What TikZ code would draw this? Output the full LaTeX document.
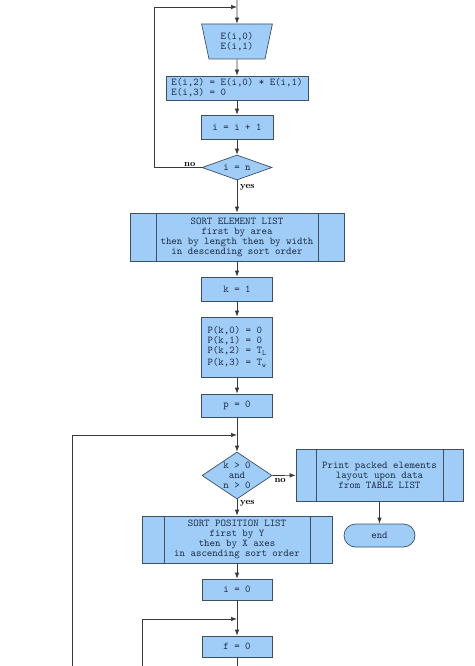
\documentclass[tikz,border=0pt]{standalone}
\usepackage{fontspec}
\usetikzlibrary{shapes,calc,arrows.meta}

\definecolor{boxfill}{HTML}{9FCDF7}
\definecolor{boxline}{HTML}{3E5060}
\definecolor{wire}{HTML}{3A3A3A}
\definecolor{boxtext}{HTML}{1C2A44}

\tikzset{
    box/.style={draw=boxline, fill=boxfill, text=boxtext, line width=0.7pt,
        font=\ttfamily\fontsize{10.4}{10}\selectfont, inner sep=0pt, align=center},
    subproc/.style={box, path picture={
        \draw[boxline, line width=0.7pt]
            ([xshift=#1]path picture bounding box.north west) -- ([xshift=#1]path picture bounding box.south west)
            ([xshift=-#1]path picture bounding box.north east) -- ([xshift=-#1]path picture bounding box.south east);}},
    test/.style={box, diamond},
    flow/.style={draw=wire, line width=0.7pt, -{Latex[length=6pt,width=4.5pt]}},
    lbl/.style={font=\rmfamily\bfseries\fontsize{9}{10}\selectfont, text=black, inner sep=1pt},
}

\begin{document}
\begin{tikzpicture}[x=1pt, y=-1pt]
    \useasboundingbox (0,0) rectangle (474,666);
    % first loop
    \coordinate (top) at (237,0);
    \coordinate (join1) at (237,7);
    \coordinate (back1) at (154,7);
    \node[box, trapezium, trapezium stretches=true, shape border rotate=180,
        trapezium left angle=77, trapezium right angle=77,
        minimum width=71pt, minimum height=35pt] (readE) at (237,41.5) {E(i,0)\\E(i,1)};
    \node[box, align=left, minimum width=142pt, minimum height=24pt] (area) at (237,88)
        {E(i,2) = E(i,0) * E(i,1)\\E(i,3) = 0};
    \node[box, minimum width=72pt, minimum height=24pt] (incr) at (237,127) {i = i + 1};
    \node[test, minimum width=70pt, minimum height=25pt, aspect=2.6] (test1) at (237,167.5) {i = n};
    \draw[flow] (top) -- (readE);
    \draw[flow] (readE) -- (area);
    \draw[flow] (area) -- (incr);
    \draw[flow] (incr) -- (test1);
    \draw[flow] (test1.west) -| (back1) -- (join1);
    \node[lbl, anchor=south east] at ([xshift=-5pt]test1.west) {no};
    % sorting elements
    \node[subproc=26pt, minimum width=214pt, minimum height=48pt] (sortel) at (237,237)
        {SORT ELEMENT LIST\\first by area\\then by length then by width\\in descending sort order};
    \draw[flow] (test1) -- (sortel);
    \node[lbl, anchor=north west] at ([shift={(2pt,-3pt)}]test1.south) {yes};
    \node[box, minimum width=71pt, minimum height=24pt] (kone) at (237,289) {k = 1};
    \node[box, align=left, minimum width=71pt, minimum height=60pt] (pinit) at (237,347)
        {P(k,0) = 0\\P(k,1) = 0\\P(k,2) = T\textsubscript{L}\\[2pt]P(k,3) = T\textsubscript{w}};
    \node[box, minimum width=71pt, minimum height=23pt] (pzero) at (237,405.5) {p = 0};
    \draw[flow] (sortel) -- (kone);
    \draw[flow] (kone) -- (pinit);
    \draw[flow] (pinit) -- (pzero);
    % outer loop
    \coordinate (join2) at (237,435);
    \coordinate (bottom2) at (72,666);
    \node[test, minimum width=70pt, minimum height=47pt, aspect=1.5] (test2) at (237,475.5)
        {k > 0\\and\\n > 0};
    \node[subproc=20pt, minimum width=167pt, minimum height=52pt] (print) at (379.5,475.3)
        {Print packed elements\\layout upon data\\from TABLE LIST};
    \node[box, rounded rectangle, minimum width=71pt, minimum height=23pt] (end) at (379.5,535.5) {end};
    \draw[flow] (pzero) -- (test2);
    \draw[flow] (bottom2) |- (join2);
    \draw[flow] (test2.east) -- (print.west);
    \node[lbl, anchor=north west] at ([shift={(1pt,-2pt)}]test2.east) {no};
    \draw[flow] (print) -- (end);
    % sorting positions
    \node[subproc=22pt, minimum width=190pt, minimum height=47pt] (sortpos) at (237,539.5)
        {SORT POSITION LIST\\first by Y\\then by X axes\\in ascending sort order};
    \draw[flow] (test2) -- (sortpos);
    \node[lbl, anchor=north west] at ([shift={(2pt,0pt)}]test2.south) {yes};
    \node[box, minimum width=70pt, minimum height=21pt] (izero) at (237,589.5) {i = 0};
    \node[box, minimum width=70pt, minimum height=21pt] (fzero) at (237,646.5) {f = 0};
    \coordinate (join3) at (237,619);
    \coordinate (bottom3) at (142,666);
    \coordinate (bottom1) at (237,666);
    \draw[flow] (sortpos) -- (izero);
    \draw[flow] (izero) -- (fzero);
    \draw[flow] (bottom3) |- (join3);
    \draw[draw=wire, line width=0.7pt] (fzero) -- (bottom1);
\end{tikzpicture}
\end{document}
